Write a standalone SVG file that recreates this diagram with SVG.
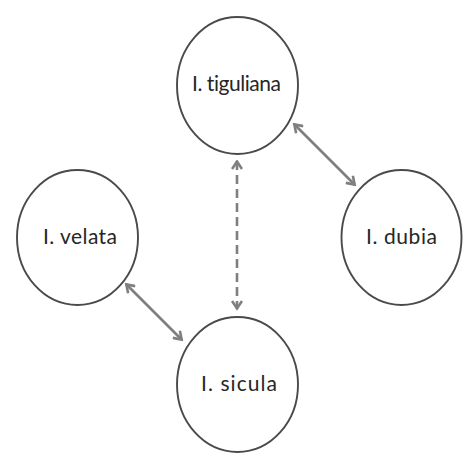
<svg xmlns="http://www.w3.org/2000/svg" width="474" height="474" viewBox="0 0 474 474">
<style>
.node ellipse{fill:#fff;stroke:#4a4a4a;stroke-width:1.9}
.node text{font-family:Lato,"Open Sans",sans-serif;font-size:21px;font-weight:400;fill:#262626;font-variant-ligatures:none}
.edge{stroke:#7f7f7f;stroke-width:2.6;fill:none;marker-start:url(#ah);marker-end:url(#ah)}
</style>
<defs>
<marker id="ah" viewBox="0 0 12 12" refX="10.5" refY="6" markerWidth="12" markerHeight="12" markerUnits="userSpaceOnUse" orient="auto-start-reverse">
<polyline points="2.5,1 10,6 2.5,11" fill="none" stroke="#7f7f7f" stroke-width="2.6" stroke-linejoin="miter"/>
</marker>
</defs>
<rect width="474" height="474" fill="#fff"/>
<g id="connectors">
<line class="edge" x1="237" y1="161" x2="237" y2="309" stroke-dasharray="9 5"/>
<line class="edge" x1="294" y1="124" x2="355" y2="185"/>
<line class="edge" x1="126" y1="284" x2="182" y2="340"/>
</g>
<g id="tiguliana" class="node">
<ellipse cx="237.5" cy="85.5" rx="60.5" ry="68.5"/>
<text x="192" y="91" textLength="89" lengthAdjust="spacing">I. tiguliana</text>
</g>
<g id="velata" class="node">
<ellipse cx="77.5" cy="237.5" rx="60.5" ry="67.5"/>
<text x="43" y="244" textLength="74" lengthAdjust="spacing">I. velata</text>
</g>
<g id="dubia" class="node">
<ellipse cx="401.5" cy="237.5" rx="60" ry="67.5"/>
<text x="366" y="243.5" textLength="71" lengthAdjust="spacing">I. dubia</text>
</g>
<g id="sicula" class="node">
<ellipse cx="237.5" cy="384.5" rx="60.5" ry="67.5"/>
<text x="201" y="391" textLength="76" lengthAdjust="spacing">I. sicula</text>
</g>
</svg>
